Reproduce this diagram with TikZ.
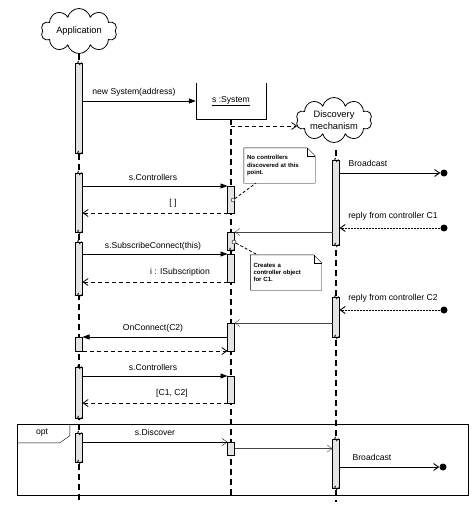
\documentclass[tikz,border=0pt]{standalone}
\usepackage{fontspec}
\setmainfont{Liberation Sans}
\usetikzlibrary{shapes.symbols, arrows.meta, positioning, calc}
\definecolor{barcolor}{RGB}{228,228,228}
\definecolor{msgcolor}{RGB}{70,70,70}

% zigzag mark on a broken activation end
\newcommand{\barbreak}[1]{%
  \draw[thin] ($(#1)+(-2.5,1)$) -- ($(#1)+(-0.7,-2)$) -- ($(#1)+(0.7,2)$) -- ($(#1)+(2.5,-1)$);}

\begin{document}
\begin{tikzpicture}[
    x=1pt, y=-1pt,
    font=\fontsize{8.6}{10}\selectfont,
    actor/.style={cloud, cloud puffs=10, cloud ignores aspect, draw, thick, minimum width=76pt, minimum height=45pt, align=center, inner sep=0pt, font=\fontsize{9.3}{11.5}\selectfont},
    bar/.style={draw, fill=barcolor, minimum width=7pt, minimum height=#1, inner sep=0pt, outer sep=0pt},
    life/.style={line width=1.1pt, dash pattern=on 6pt off 4pt},
    call/.style={-{Triangle[length=7pt, width=5pt]}, thick},
    async/.style={-{Straight Barb[length=5pt, width=7pt]}, msgcolor},
    reply/.style={-{Straight Barb[length=5pt, width=7pt]}, thick, dash pattern=on 4pt off 3pt},
    found/.style={-{Straight Barb[length=5pt, width=7pt]}, line width=0.9pt, dash pattern=on 2pt off 1pt},
    sig/.style={-{Straight Barb[length=5pt, width=7pt]}, line width=0.9pt},
    lost/.style={circle, fill=black, inner sep=0pt, minimum size=7pt},
    notebox/.style={text width=65pt, minimum height=35pt, align=left, font=\fontsize{6}{7.4}\selectfont\bfseries, inner sep=3pt},
    hook/.style={circle, draw, fill=white, inner sep=0pt, minimum size=4pt},
    link/.style={thick, dash pattern=on 3pt off 2pt}
]
    \useasboundingbox (0,0) rectangle (474,519);

    % Participants
    \node[actor] (app) at (79,31) {Application};
    \node[actor] (disc) at (334,120) {Discovery\\mechanism};
    \node[minimum width=70pt, minimum height=36pt, inner sep=0pt] (sys) at (231,101) {\underline{s :System}};
    \draw (sys.north west) -- (sys.south west) -- (sys.south east) -- (sys.north east);

    % Lifelines
    \coordinate (appE) at (79,502);
    \coordinate (sysE) at (231,497);
    \coordinate (discT) at (336,150);
    \coordinate (discE) at (336,502);
    \draw[life] (app.south) -- (appE);
    \draw[life] (sys.south) -- (sysE);
    \draw[life] (discT) -- (discE);

    % Frame
    \node[draw, minimum width=451pt, minimum height=71pt, inner sep=0pt] (optframe) at (242.5,459.5) {};
    \draw ([yshift=-19pt]optframe.north west) -- ++(43,0) -- ++(10,-7) -- ++(0,-12);
    \node (optl) at (42,433) {opt};

    % Activations
    \node[bar=90] (ab1) at (79,108) {};
    \node[bar=59] (ab2) at (79,202.5) {};
    \node[bar=53] (ab3) at (79,268.5) {};
    \node[bar=14] (ab4) at (79,344) {};
    \node[bar=51] (ab5) at (79,392.5) {};
    \node[bar=29] (ab6) at (79,447.5) {};
    \node[bar=27] (sb1) at (231,199.5) {};
    \node[bar=18] (sb2) at (231,241) {};
    \node[bar=28] (sb3) at (231,268) {};
    \node[bar=28] (sb4) at (231,337) {};
    \node[bar=27] (sb5) at (231,389.5) {};
    \node[bar=13] (sb6) at (231,448.5) {};
    \node[bar=85] (db1) at (336,202.5) {};
    \node[bar=40] (db2) at (336,317) {};
    \node[bar=49] (db3) at (336,463.5) {};
    \foreach \e in {ab1.north, ab1.south, ab2.north, ab2.south, ab3.north, ab3.south,
                    ab5.north, ab5.south, ab6.north, ab6.south, sb2.south,
                    db1.north, db1.south, db2.north, db2.south, db3.north, db3.south}
        \barbreak{\e};

    % Lost and found ends
    \node[lost] (bc1) at (444,173) {};
    \node[lost] (rc1) at (444,228) {};
    \node[lost] (rc2) at (444,310) {};
    \node[lost] (bc2) at (443,467) {};

    % Messages
    \draw[call] (ab1.east |- sys.west) -- (sys.west);
    \node (lnew) at (134,92) {new System(address)};
    \coordinate (dmk) at ([yshift=-6pt]disc.west);
    \draw[reply] (sys.south |- dmk) -- (dmk);

    \draw[sig] (db1.east |- bc1) -- (bc1.west);
    \node (lbc1) at (368,163) {Broadcast};

    \draw[call] (ab2.east |- sb1.north west) -- (sb1.north west);
    \node (lctl1) at (153,177) {s.Controllers};
    \draw[reply] (sb1.south west) -- (ab2.east |- sb1.south west);
    \node (lret1) at (173,203) {[ ]};

    \draw[found] (rc1.west) -- (db1.east |- rc1);
    \node (lrc1) at (393,216) {reply from controller C1};
    \draw[async] (db1.west |- sb2.north east) -- (sb2.north east);

    \draw[call] (ab3.east |- sb3.north west) -- (sb3.north west);
    \node (lsub) at (153,246) {s.SubscribeConnect(this)};
    \draw[reply] (sb3.south west) -- (ab3.east |- sb3.south west);
    \node (lisub) at (180,272) {i : ISubscription};

    \draw[found] (rc2.west) -- (db2.east |- rc2);
    \node (lrc2) at (393,298) {reply from controller C2};
    \draw[async] (db2.west |- sb4.north east) -- (sb4.north east);

    \draw[call] (sb4.west) -- (ab4.north east);
    \node (lonc) at (153,328) {OnConnect(C2)};
    \draw[reply] (ab4.south east) -- (sb4.south west);

    \draw[call] (ab5.east |- sb5.north west) -- (sb5.north west);
    \node (lctl2) at (153,367) {s.Controllers};
    \draw[reply] (sb5.south west) -- (ab5.east |- sb5.south west);
    \node (lret2) at (172,393) {[C1, C2]};

    \draw[async, black] (ab6.east |- sb6.north west) -- (sb6.north west);
    \node (ldisc) at (155,432) {s.Discover};
    \draw[async] (sb6.east) -- (db3.west |- sb6.east);
    \draw[sig] (db3.east |- bc2) -- (bc2.west);
    \node (lbc2) at (372,457) {Broadcast};

    % Notes
    \node[notebox] (note1) at (279.5,165.5) {No controllers\\discovered at this\\point.};
    \draw (note1.north west) -- ([xshift=-8pt]note1.north east) -- ([yshift=-8pt]note1.north east) -- (note1.south east) -- (note1.south west) -- cycle;
    \draw ([xshift=-8pt]note1.north east) |- ([yshift=-8pt]note1.north east);
    \node[hook] (h1) at (233,200) {};
    \draw[link] (h1) -- ([xshift=12pt]note1.south west);

    \node[notebox] (note2) at (286,272.5) {Creates a\\controller object\\for C1.};
    \draw (note2.north west) -- ([xshift=-8pt]note2.north east) -- ([yshift=-8pt]note2.north east) -- (note2.south east) -- (note2.south west) -- cycle;
    \draw ([xshift=-8pt]note2.north east) |- ([yshift=-8pt]note2.north east);
    \node[hook] (h2) at (234,242) {};
    \draw[link] (h2) -- ([xshift=7pt]note2.north west);
\end{tikzpicture}
\end{document}
